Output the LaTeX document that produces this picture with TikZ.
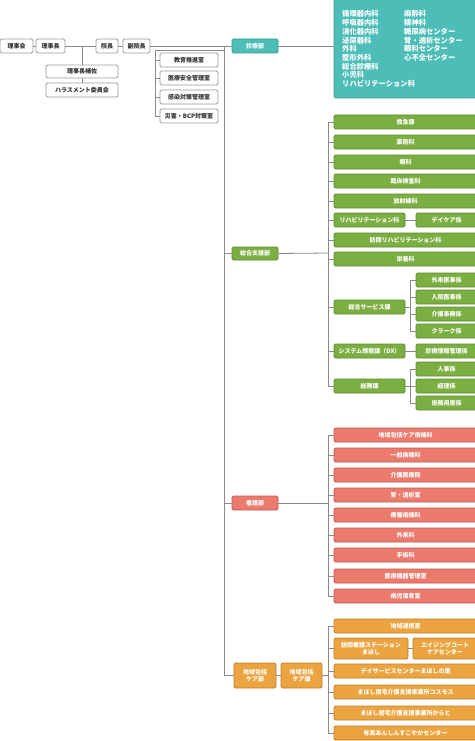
\documentclass[tikz,border=0pt]{standalone}
\usepackage{fontspec}
\setmainfont{Noto Sans CJK JP}
\definecolor{tealf}{HTML}{4DBDB8}\definecolor{tealb}{HTML}{3A9995}
\definecolor{grnf}{HTML}{7CAF42}\definecolor{grnb}{HTML}{5C8A2C}
\definecolor{salf}{HTML}{EC7B6E}\definecolor{salb}{HTML}{BF5A50}
\definecolor{orgf}{HTML}{EBA43F}\definecolor{orgb}{HTML}{BC8028}
\definecolor{lnc}{HTML}{8A8A8A}\definecolor{wbb}{HTML}{9A9A9A}
\tikzset{
 base/.style={rectangle,rounded corners=1.5pt,inner sep=0pt,line width=0.9pt,font=\fontsize{6}{7}\selectfont\bfseries,align=center},
 wbox/.style={base,draw=wbb,fill=white,text=black!80},
 tbox/.style={base,draw=tealb,fill=tealf,text=white},
 gbox/.style={base,draw=grnb,fill=grnf,text=white},
 sbox/.style={base,draw=salb,fill=salf,text=white},
 obox/.style={base,draw=orgb,fill=orgf,text=white},
 conn/.style={draw=lnc,line width=0.8pt},
}
\newcommand\bx[7]{\pgfmathsetmacro\bw{#5-#3}\pgfmathsetmacro\bh{#6-#4}%
 \node[#2,minimum width=\bw pt,minimum height=\bh pt] (#1) at ({(#3+#5)/2},{(#4+#6)/2}) {#7};}
\begin{document}
\begin{tikzpicture}[x=1pt,y=-1pt]
\useasboundingbox (0,0) rectangle (474,741);
% top row
\bx{rjk}{wbox}{0}{39}{33}{53}{理事会}
\bx{rjc}{wbox}{36}{39}{65}{53}{理事長}
\bx{inc}{wbox}{96}{39}{118}{53}{院長}
\bx{fic}{wbox}{123}{39}{150}{53}{副院長}
\bx{rjh}{wbox}{46}{65}{118}{78}{理事長補佐}
\bx{hrs}{wbox}{46}{83}{118}{97}{ハラスメント委員会}
\bx{r1}{wbox}{160}{53}{218}{67}{教育推進室}
\bx{r2}{wbox}{160}{71}{218}{85}{医療安全管理室}
\bx{r3}{wbox}{160}{90}{218}{104}{感染対策管理室}
\bx{r4}{wbox}{160}{109}{218}{123}{災害・BCP対策室}
\draw[conn] (rjk) -- (rjc);
\draw[conn] (rjc) -- (inc);
\draw[conn] (inc) -- (fic);
\draw[conn] (rjh.north) -- (rjh.north |- rjc.east);
\draw[conn] (rjh) -- (hrs);
\coordinate (rb) at (155,50);
\coordinate (trunk) at (224,46);
\draw[conn] (trunk |- rb) -- (rb) |- (r4.west);
\foreach \r in {r1,r2,r3} \draw[conn] (rb |- \r.west) -- (\r.west);
% departments
\bx{shin}{tbox}{232}{39}{278}{53}{診療部}
\bx{sogo}{gbox}{232}{247}{278}{260}{総合支援部}
\bx{kango}{sbox}{232}{496}{278}{510}{看護部}
\bx{chiki}{obox}{234}{663}{276}{688}{地域包括\\ケア部}
\bx{chikika}{obox}{281}{663}{322}{688}{地域包括\\ケア課}
\draw[conn] (fic) -- (shin);
\draw[conn] (trunk) |- (chiki.west);
\draw[conn] (trunk |- sogo.west) -- (sogo.west);
\draw[conn] (trunk |- kango.west) -- (kango.west);
\draw[conn] (chiki) -- (chikika);
% teal big box
\bx{tbig}{tbox}{334}{-3}{477}{98}{}
\draw[conn] (shin.east) -- (tbig.west |- shin.east);
\node[anchor=north west,align=left,text=white,font=\fontsize{7.3}{8.7}\selectfont\bfseries,inner sep=0pt] (tl) at (342,10.5) {循環器内科\\呼吸器内科\\消化器内科\\泌尿器科\\外科\\整形外科\\総合診療科\\小児科\\リハビリテーション科};
\node[anchor=north west,align=left,text=white,font=\fontsize{7.3}{8.7}\selectfont\bfseries,inner sep=0pt] (tr) at (404,10.5) {麻酔科\\精神科\\糖尿病センター\\腎・透析センター\\眼科センター\\心不全センター};
% green
\coordinate (gb) at (328,253);
\bx{g1}{gbox}{334}{115}{477}{129}{救急課}
\bx{g2}{gbox}{334}{135}{477}{149}{薬剤科}
\bx{g3}{gbox}{334}{155}{477}{169}{眼科}
\bx{g4}{gbox}{334}{174}{477}{188}{臨床検査科}
\bx{g5}{gbox}{334}{194}{477}{208}{放射線科}
\bx{g6}{gbox}{334}{213}{405}{227}{リハビリテーション科}
\bx{g6a}{gbox}{416}{213}{477}{227}{デイケア係}
\bx{g7}{gbox}{334}{233}{477}{247}{訪問リハビリテーション科}
\bx{g8}{gbox}{334}{252}{477}{266}{栄養科}
\bx{g9}{gbox}{334}{300}{405}{314}{総合サービス課}
\bx{g9a}{gbox}{416}{273}{477}{287}{外来医事係}
\bx{g9b}{gbox}{416}{290}{477}{304}{入院医事係}
\bx{g9c}{gbox}{416}{307}{477}{321}{介護事務係}
\bx{g9d}{gbox}{416}{324}{477}{338}{クラーク係}
\bx{g10}{gbox}{334}{344}{405}{358}{システム情報課（DX）}
\bx{g10a}{gbox}{416}{344}{477}{358}{診療情報管理係}
\bx{g11}{gbox}{334}{379}{405}{393}{総務課}
\bx{g11a}{gbox}{416}{362}{477}{376}{人事係}
\bx{g11b}{gbox}{416}{379}{477}{393}{経理係}
\bx{g11c}{gbox}{416}{396}{477}{410}{庶務用度係}
\draw[conn] (sogo.east) -- (gb);
\draw[conn] (gb |- g1.west) -- (gb |- g11.west);
\foreach \g in {g1,g2,g3,g4,g5,g6,g7,g8,g9,g10,g11} \draw[conn] (gb |- \g.west) -- (\g.west);
\draw[conn] (g6) -- (g6a);
\draw[conn] (g10) -- (g10a);
\coordinate (sb1) at (410,300);
\draw[conn] (g9.east) -- (sb1 |- g9.east);
\draw[conn] (sb1 |- g9a.west) -- (sb1 |- g9d.west);
\foreach \g in {g9a,g9b,g9c,g9d} \draw[conn] (sb1 |- \g.west) -- (\g.west);
\draw[conn] (g11.east) -- (sb1 |- g11.east);
\draw[conn] (sb1 |- g11a.west) -- (sb1 |- g11c.west);
\foreach \g in {g11a,g11b,g11c} \draw[conn] (sb1 |- \g.west) -- (\g.west);
% salmon
\coordinate (kb) at (328,503);
\bx{s1}{sbox}{334}{428}{477}{442}{地域包括ケア病棟科}
\bx{s2}{sbox}{334}{448}{477}{462}{一般病棟科}
\bx{s3}{sbox}{334}{468}{477}{482}{介護医療院}
\bx{s4}{sbox}{334}{488}{477}{502}{腎・透析室}
\bx{s5}{sbox}{334}{508}{477}{522}{療養病棟科}
\bx{s6}{sbox}{334}{528}{477}{542}{外来科}
\bx{s7}{sbox}{334}{548}{477}{562}{手術科}
\bx{s8}{sbox}{334}{569}{477}{583}{医療機器管理室}
\bx{s9}{sbox}{334}{589}{477}{603}{病児保育室}
\draw[conn] (kango.east) -- (kb);
\draw[conn] (kb |- s1.west) -- (kb |- s9.west);
\foreach \s in {s1,s2,s3,s4,s5,s6,s7,s8,s9} \draw[conn] (kb |- \s.west) -- (\s.west);
% orange
\coordinate (ob) at (328,675);
\bx{o1}{obox}{334}{619}{477}{633}{地域連携室}
\bx{o2}{obox}{334}{638}{408}{659}{訪問看護ステーション\\まほし}
\bx{o2a}{obox}{413}{638}{477}{659}{エイジングコート\\ケアセンター}
\bx{o3}{obox}{334}{664}{477}{678}{デイサービスセンターまほしの里}
\bx{o4}{obox}{334}{685}{477}{699}{まほし居宅介護支援事業所コスモス}
\bx{o5}{obox}{334}{706}{477}{720}{まほし居宅介護支援事業所からと}
\bx{o6}{obox}{334}{726}{477}{740}{有馬あんしんすこやかセンター}
\draw[conn] (chikika.east) -- (chikika.east -| ob);
\draw[conn] (ob |- o1.west) -- (ob |- o6.west);
\foreach \o in {o1,o2,o3,o4,o5,o6} \draw[conn] (ob |- \o.west) -- (\o.west);
\draw[conn] (o2) -- (o2a);
\end{tikzpicture}
\end{document}
